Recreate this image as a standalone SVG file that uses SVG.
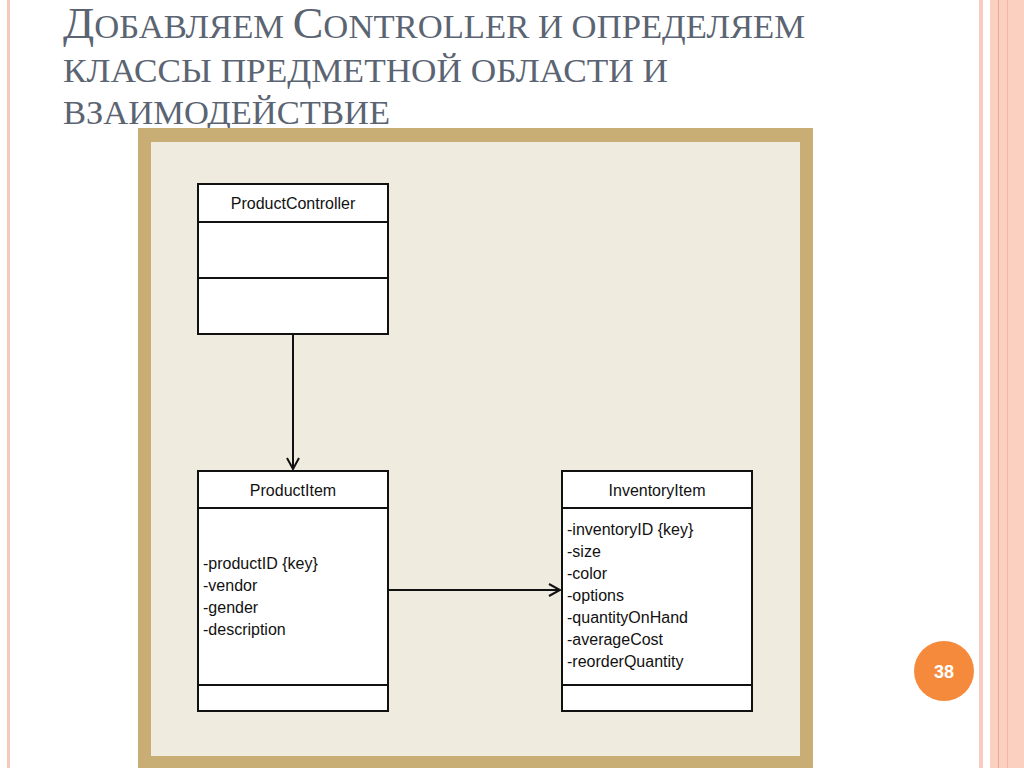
<svg xmlns="http://www.w3.org/2000/svg" width="1024" height="768" viewBox="0 0 1024 768">
<style>
.t{font-family:"Liberation Serif",serif;fill:#5b6472}
.box{fill:#fff;stroke:#111;stroke-width:2}
.ln{stroke:#111;stroke-width:2}
.lb{font-family:"Liberation Sans",Arial,sans-serif;font-size:16px;fill:#111}
.con{stroke:#111;stroke-width:2;fill:none}
</style>
<defs><marker id="ar" markerWidth="14" markerHeight="14" refX="12" refY="7" orient="auto" markerUnits="userSpaceOnUse"><path d="M1,1 L12,7 L1,13" fill="none" stroke="#111" stroke-width="2"/></marker></defs>
<rect width="1024" height="768" fill="#fff"/>
<rect x="7" y="0" width="3" height="768" fill="#f6c9bb"/>
<rect x="979" y="0" width="4" height="768" fill="#f8cdbf"/>
<rect x="990" y="0" width="34" height="768" fill="#fbd0c0"/>
<rect x="998" y="0" width="1" height="768" fill="#e9a790"/>
<rect x="1007" y="0" width="1" height="768" fill="#f0b8a4"/>
<g id="title">
<text class="t" x="63" y="38" font-size="34" textLength="742" lengthAdjust="spacingAndGlyphs"><tspan font-size="45">Д</tspan>ОБАВЛЯЕМ <tspan font-size="45">C</tspan>ONTROLLER И ОПРЕДЕЛЯЕМ</text>
<text class="t" x="63" y="82" font-size="34" textLength="605" lengthAdjust="spacingAndGlyphs">КЛАССЫ ПРЕДМЕТНОЙ ОБЛАСТИ И</text>
<text class="t" x="63" y="124" font-size="34" textLength="327" lengthAdjust="spacingAndGlyphs">ВЗАИМОДЕЙСТВИЕ</text>
</g>
<rect x="138" y="128" width="675" height="640" fill="#c8ad74"/>
<rect x="151" y="142" width="649" height="614" fill="#f0ebdf"/>
<g id="ProductController">
<rect class="box" x="198" y="184" width="190" height="150"/>
<line class="ln" x1="198" y1="222" x2="388" y2="222"/>
<line class="ln" x1="198" y1="278" x2="388" y2="278"/>
<text class="lb" x="293" y="209" text-anchor="middle">ProductController</text>
</g>
<g id="ProductItem">
<rect class="box" x="198" y="471" width="190" height="240"/>
<line class="ln" x1="198" y1="508" x2="388" y2="508"/>
<line class="ln" x1="198" y1="685" x2="388" y2="685"/>
<text class="lb" x="293" y="496" text-anchor="middle">ProductItem</text>
<text class="lb" x="203" y="569">-productID {key}</text>
<text class="lb" x="203" y="591">-vendor</text>
<text class="lb" x="203" y="613">-gender</text>
<text class="lb" x="203" y="635">-description</text>
</g>
<g id="InventoryItem">
<rect class="box" x="562" y="471" width="190" height="240"/>
<line class="ln" x1="562" y1="508" x2="752" y2="508"/>
<line class="ln" x1="562" y1="685" x2="752" y2="685"/>
<text class="lb" x="657" y="496" text-anchor="middle">InventoryItem</text>
<text class="lb" x="567" y="535">-inventoryID {key}</text>
<text class="lb" x="567" y="557">-size</text>
<text class="lb" x="567" y="579">-color</text>
<text class="lb" x="567" y="601">-options</text>
<text class="lb" x="567" y="623">-quantityOnHand</text>
<text class="lb" x="567" y="645">-averageCost</text>
<text class="lb" x="567" y="667">-reorderQuantity</text>
</g>
<g id="connectors">
<line class="con" x1="293" y1="334" x2="293" y2="469" marker-end="url(#ar)"/>
<line class="con" x1="388" y1="590" x2="560" y2="590" marker-end="url(#ar)"/>
</g>
<g id="page">
<circle cx="944" cy="671" r="30" fill="#f58a3c"/>
<text x="944" y="678" text-anchor="middle" font-family="Liberation Sans,Arial,sans-serif" font-size="18" font-weight="bold" fill="#fff">38</text>
</g>
</svg>
